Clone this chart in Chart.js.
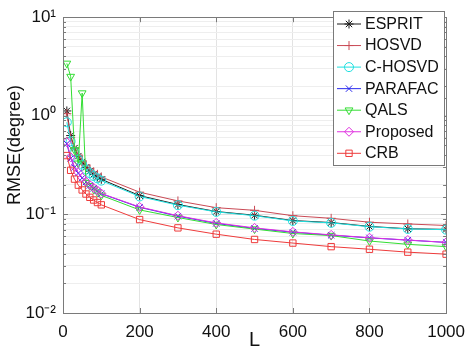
<!DOCTYPE html>
<html><head><meta charset="utf-8">
<script src="https://cdn.jsdelivr.net/npm/chart.js@4/dist/chart.umd.min.js"></script>
<style>html,body{margin:0;padding:0;background:#fff}#wrap{width:474px;height:355px}</style>
</head><body><div id="wrap"><canvas id="c" width="474" height="355"></canvas></div>
<script>
const L = [10,20,30,40,50,60,70,80,90,100,200,300,400,500,600,700,800,900,1000];
const esprit   = [1.12,0.63,0.47,0.39,0.34,0.30,0.275,0.255,0.240,0.227,0.155,0.126,0.107,0.098,0.0866,0.0827,0.0755,0.0715,0.0705];
const hosvd    = [1.05,0.60,0.47,0.40,0.35,0.315,0.29,0.27,0.255,0.240,0.168,0.137,0.117,0.110,0.097,0.0913,0.0833,0.0800,0.0772];
const chosvd   = [0.86,0.55,0.43,0.36,0.32,0.285,0.262,0.245,0.232,0.220,0.152,0.124,0.106,0.097,0.0858,0.0820,0.0750,0.0712,0.0700];
const parafac  = [0.52,0.37,0.30,0.262,0.234,0.213,0.197,0.184,0.173,0.162,0.118,0.096,0.081,0.072,0.0660,0.0615,0.0578,0.0548,0.0520];
const qals     = [3.4,2.5,0.45,0.33,1.7,0.21,0.195,0.180,0.168,0.156,0.111,0.093,0.079,0.071,0.064,0.061,0.0537,0.0497,0.0471];
const proposed = [0.54,0.38,0.305,0.265,0.236,0.215,0.199,0.186,0.175,0.163,0.119,0.097,0.082,0.073,0.0665,0.062,0.058,0.055,0.052];
const crb      = [0.395,0.28,0.228,0.198,0.177,0.161,0.149,0.140,0.132,0.125,0.0886,0.073,0.063,0.0557,0.0512,0.0471,0.0443,0.0414,0.0395];
const xTicks = [0,200,400,600,800,1000];
const yMajorLabels = {"10":"10\u00b9","1":"10\u2070","0.1":"10\u207b\u00b9","0.01":"10\u207b\u00b2"};

const FONT = '"Liberation Sans", Arial, sans-serif';
function pts(arr){ return L.map((x,i)=>({x:x, y:arr[i]})); }
const series = [
  {label:'ESPRIT', data:esprit, color:'#1a1a1a', style:'star', rot:0},
  {label:'HOSVD', data:hosvd, color:'#c94a55', style:'cross', rot:0},
  {label:'C-HOSVD', data:chosvd, color:'#1fe0e0', style:'circle', rot:0},
  {label:'PARAFAC', data:parafac, color:'#2a2aee', style:'crossRot', rot:0},
  {label:'QALS', data:qals, color:'#33dd33', style:'triangle', rot:180},
  {label:'Proposed', data:proposed, color:'#e030e0', style:'rectRot', rot:0},
  {label:'CRB', data:crb, color:'#ee3b3b', style:'rect', rot:0}
];
function isMajor(v){ const l=Math.log10(v); return Math.abs(l-Math.round(l))<1e-9; }

const decor = {
  id:'decor',
  afterDraw(chart){
    const ctx=chart.ctx, a=chart.chartArea;
    const ys=chart.scales.y, xs=chart.scales.x;
    ctx.save();
    ctx.strokeStyle='#7a7a7a'; ctx.lineWidth=1;
    ctx.beginPath();
    ys.ticks.forEach(t=>{
      const p=Math.round(ys.getPixelForValue(t.value))+0.5;
      const len=isMajor(t.value)?5:3;
      ctx.moveTo(a.left,p); ctx.lineTo(a.left+len,p);
      ctx.moveTo(a.right,p); ctx.lineTo(a.right-len,p);
    });
    xs.ticks.forEach(t=>{
      const p=Math.round(xs.getPixelForValue(t.value))+0.5;
      ctx.moveTo(p,a.bottom); ctx.lineTo(p,a.bottom-5);
      ctx.moveTo(p,a.top); ctx.lineTo(p,a.top+5);
    });
    ctx.stroke();
    ctx.strokeRect(Math.round(a.left)+0.5,Math.round(a.top)+0.5,Math.round(a.right-a.left),Math.round(a.bottom-a.top));
    // legend
    const bx=333.5, by=11.5, bw=111, bh=154;
    ctx.fillStyle='#fff'; ctx.fillRect(bx,by,bw,bh);
    ctx.strokeStyle='#7a7a7a'; ctx.strokeRect(bx,by,bw,bh);
    chart.data.datasets.forEach((ds,i)=>{
      const y=24+i*21.55;
      ctx.strokeStyle=ds.borderColor; ctx.lineWidth=1;
      ctx.beginPath(); ctx.moveTo(337,y); ctx.lineTo(361,y); ctx.stroke();
      ctx.fillStyle='rgba(0,0,0,0)';
      Chart.helpers.drawPoint(ctx,{pointStyle:ds.pointStyle,radius:ds.pointRadius,rotation:ds.pointRotation||0,borderWidth:1},349,y);
      ctx.fillStyle='#111'; ctx.font='16px '+FONT; ctx.textBaseline='middle'; ctx.textAlign='left';
      ctx.fillText(ds.label,365,y+0.5);
    });
    ctx.restore();
  }
};

new Chart(document.getElementById('c'),{
  type:'line',
  data:{datasets:series.map((s,i)=>({
    label:s.label, data:pts(s.data), borderColor:s.color, backgroundColor:'rgba(0,0,0,0)',
    borderWidth:1, pointStyle:s.style, pointRotation:s.rot, pointRadius:4.5, pointBorderWidth:1,
    pointBorderColor:s.color, pointBackgroundColor:'rgba(0,0,0,0)', tension:0, order:series.length-1-i
  }))},
  options:{
    responsive:false, animation:false, devicePixelRatio:1,
    layout:{padding:{left:0,right:24,top:10,bottom:0}},
    plugins:{legend:{display:false},tooltip:{enabled:false}},
    scales:{
      x:{type:'linear',min:0,max:1000,
        afterBuildTicks(sc){ sc.ticks=xTicks.map(v=>({value:v})); },
        afterFit(sc){ sc.height=42; },
        grid:{color:'#e3e3e3',drawTicks:false},
        border:{display:false},
        ticks:{font:{size:17,family:FONT},color:'#111',padding:9,maxRotation:0,callback:(v)=>String(v)},
        title:{display:true,text:'L',font:{size:20,family:FONT},color:'#111',padding:{top:0,bottom:3}}
      },
      y:{type:'logarithmic',min:0.01,max:10,
        afterFit(sc){ sc.width=63; },
        grid:{color:c=>isMajor(c.tick.value)?'#dedede':'#eeeeee',drawTicks:false},
        border:{display:false},
        ticks:{autoSkip:false,font:{size:17,family:FONT},color:'#111',padding:7,
          callback:(v)=>isMajor(v)?(yMajorLabels[String(+v.toPrecision(3))]||''):''},
        title:{display:true,text:'        RMSE(degree)',font:{size:18,family:FONT},color:'#111',padding:{top:4,bottom:0}}
      }
    }
  },
  plugins:[decor]
});
</script></body></html>
